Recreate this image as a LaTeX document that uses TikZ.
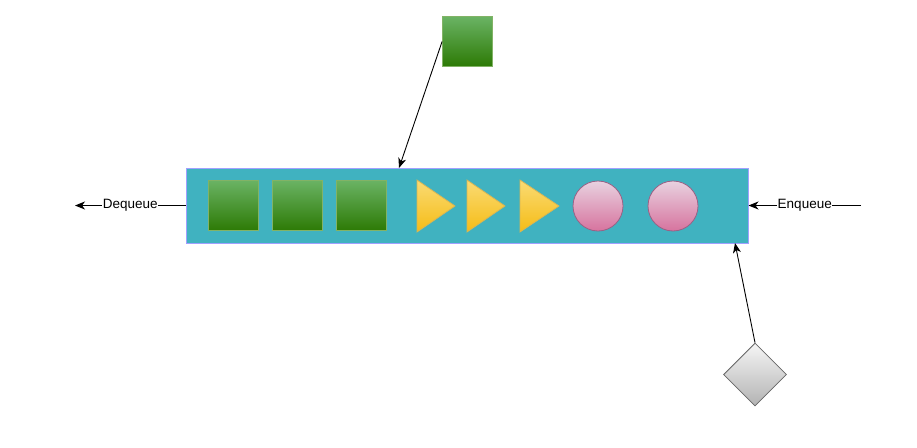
\documentclass[tikz,border=0pt]{standalone}
\usepackage{fontspec}
\setmainfont{Liberation Sans}
\usetikzlibrary{arrows.meta,shapes.geometric}
\definecolor{qfill}{HTML}{40B2C0}
\definecolor{qline}{HTML}{A0A0FF}
\definecolor{gtop}{HTML}{6AB364}
\definecolor{gbot}{HTML}{2D7A05}
\definecolor{gline}{HTML}{82B366}
\definecolor{ytop}{HTML}{FADB74}
\definecolor{ybot}{HTML}{F5BC16}
\definecolor{yline}{HTML}{D6B656}
\definecolor{ptop}{HTML}{E8D2E0}
\definecolor{pbot}{HTML}{D7739E}
\definecolor{pline}{HTML}{996185}
\definecolor{dtop}{HTML}{F5F5F5}
\definecolor{dbot}{HTML}{B3B3B3}
\definecolor{dline}{HTML}{666666}
\tikzset{
  gsq/.style={draw=gline, line width=0.8pt, top color=gtop, bottom color=gbot, minimum width=50pt, minimum height=50pt, inner sep=0pt},
  ytri/.style={draw=yline, line width=0.8pt, top color=ytop, bottom color=ybot},
  pcirc/.style={circle, draw=pline, line width=0.8pt, top color=ptop, bottom color=pbot, minimum size=50pt, inner sep=0pt},
  arr/.style={line width=0.9pt, -{Stealth[length=10pt,width=8pt,inset=3pt]}},
  lbl/.style={fill=white, inner sep=0.5pt, font=\fontsize{13.5}{16}\selectfont},
}
\begin{document}
\begin{tikzpicture}[x=1pt,y=-1pt]
\useasboundingbox (0,0) rectangle (917,447);
\node[draw=qline, fill=qfill, line width=1pt, minimum width=562pt, minimum height=75pt, inner sep=0pt] (queue) at (467,205.5) {};
\node[gsq] (s1) at (233,205.5) {};
\node[gsq] (s2) at (297,205.5) {};
\node[gsq] (s3) at (361,205.5) {};
\shade[ytri] (417,180) -- (455,206) -- (417,232) -- cycle;
\shade[ytri] (467,180) -- (505,206) -- (467,232) -- cycle;
\shade[ytri] (520,180) -- (559,206) -- (520,232) -- cycle;
\node[pcirc] (c1) at (598,206) {};
\node[pcirc] (c2) at (673,206) {};
\node[gsq] (top) at (467.5,41.5) {};
\node[diamond, aspect=1, draw=dline, line width=0.8pt, top color=dtop, bottom color=dbot, minimum width=63pt, minimum height=63pt, inner sep=0pt] (dia) at (755,374.5) {};
\coordinate (in1) at (399,168);
\coordinate (in2) at (735,243);
\coordinate (deqend) at (75,205.5);
\coordinate (enqstart) at (861,205.5);
\draw[arr] (top.west) -- (in1);
\draw[arr] (dia.north) -- (in2);
\draw[arr] (queue.west) -- node[lbl, midway] {Dequeue} (deqend);
\draw[arr] (enqstart) -- node[lbl, midway] {Enqueue} (queue.east);
\end{tikzpicture}
\end{document}
